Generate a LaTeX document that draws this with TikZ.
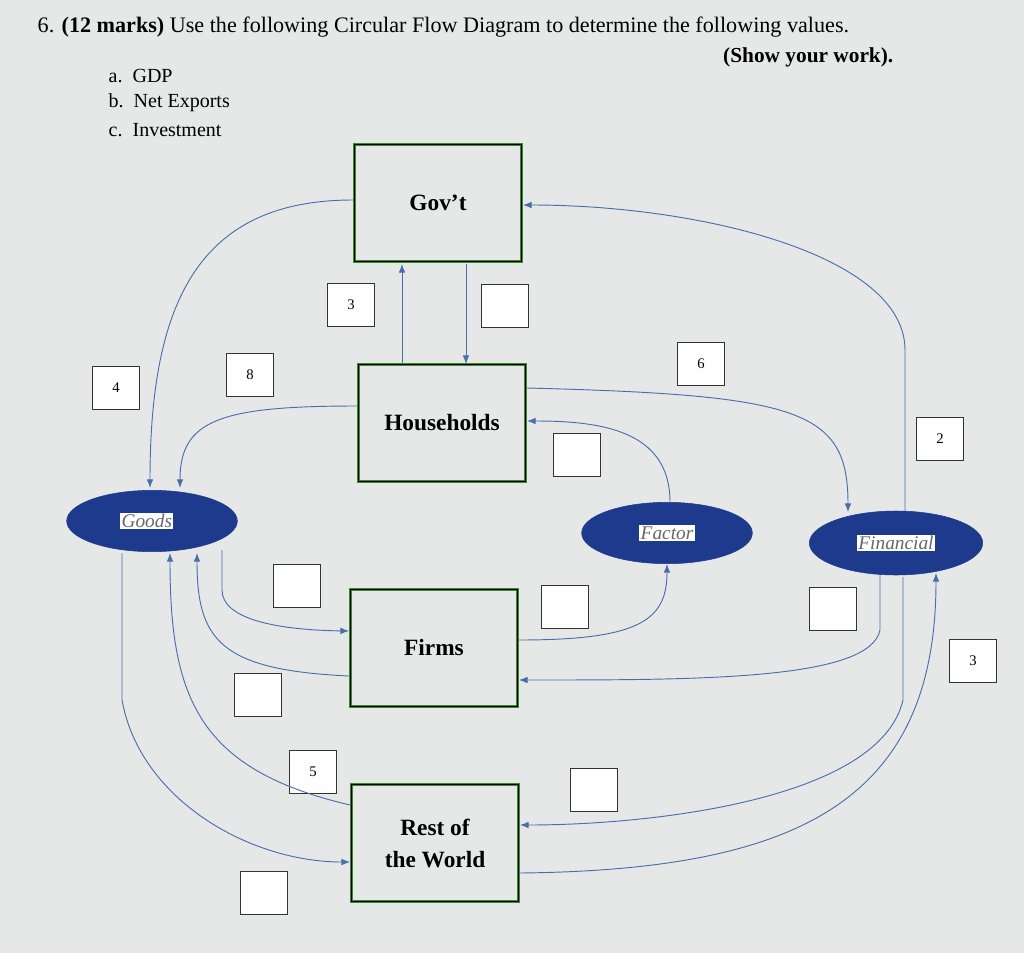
\documentclass[tikz,border=0pt]{standalone}
\usepackage{fontspec}
\setmainfont{Liberation Serif}
\usetikzlibrary{shapes.geometric,arrows.meta}
\definecolor{bg}{HTML}{E6E8E8}
\definecolor{ln}{HTML}{4A6FA8}
\definecolor{ell}{HTML}{1E3A8C}
\definecolor{gr}{HTML}{3C8A2E}
\begin{document}
\begin{tikzpicture}[x=0.75pt,y=-0.75pt,
 box/.style={draw=gr,line width=2.4pt,fill=bg,minimum width=125pt,minimum height=88pt,font=\fontsize{17.5}{24}\selectfont\bfseries,align=center,postaction={draw=black,line width=0.7pt}},
 sq/.style={draw=black!80,line width=0.7pt,fill=white!95!bg,minimum width=35pt,minimum height=32pt,font=\fontsize{11}{13}\selectfont},
 el/.style={ellipse,fill=ell,draw=ell,minimum width=128pt,minimum height=46pt},
 lab/.style={fill=white,inner sep=1pt,font=\fontsize{14.5}{17}\selectfont\itshape,text=black!60},
 ar/.style={ln,line width=0.7pt,-{Latex[length=6.5pt,width=5pt]}}]
\fill[bg] (0,0) rectangle (1024,953);
\useasboundingbox (0,0) rectangle (1024,953);
\node[anchor=west,font=\fontsize{16.6}{19}\selectfont] (title) at (33,27) {6. \textbf{(12 marks)} Use the following Circular Flow Diagram to determine the following values.};
\node[anchor=east,font=\fontsize{16}{19}\selectfont\bfseries] (show) at (898,57) {(Show your work).};
\node[anchor=west,font=\fontsize{15}{18}\selectfont] (qa) at (104,76) {a.\ \ GDP};
\node[anchor=west,font=\fontsize{15}{18}\selectfont] (qb) at (104,103) {b.\ \ Net Exports};
\node[anchor=west,font=\fontsize{15}{18}\selectfont] (qc) at (104,130) {c.\ \ Investment};

\node[box] (gov) at (438,203) {Gov’t};
\node[box] (hh) at (442,423) {Households};
\node[box] (firms) at (434,648) {Firms};
\node[box] (row) at (435,843) {Rest of\\the World};

\node[el] (goods) at (152,521) {};
\node[lab,anchor=west] (goodsl) at (120,521) {Goods};
\node[el] (factor) at (667,533) {};
\node[lab] (factorl) at (667,533) {Factor};
\node[el,minimum width=130pt,minimum height=48pt] (fin) at (896,543) {};
\node[lab] (finl) at (896,543) {Financial};

\node[sq] (b4) at (116,388) {4};
\node[sq] (b8) at (250,375) {8};
\node[sq] (b3) at (351,305) {3};
\node[sq] (e1) at (505,306) {};
\node[sq] (b6) at (701,364) {6};
\node[sq] (b2) at (940,439) {2};
\node[sq] (e2) at (577,455) {};
\node[sq] (e3) at (297,586) {};
\node[sq] (e4) at (565,607) {};
\node[sq] (e5) at (833,609) {};
\node[sq] (b3b) at (973,661) {3};
\node[sq] (e6) at (258,695) {};
\node[sq] (b5) at (313,772) {5};
\node[sq] (e7) at (594,790) {};
\node[sq] (e8) at (264,893) {};

\draw[ar] (gov.west |- 0,200) .. controls (200,200) and (150,300) .. (150,488);
\draw[ar] (905,511) -- (905,350) .. controls (905,255) and (700,205) .. (gov.east |- 0,205);
\draw[ar] (402,364) -- (402,264);
\draw[ar] (466,264) -- (466,364);
\draw[ar] (hh.west |- 0,406) .. controls (220,406) and (180,420) .. (180,488);
\draw[ar] (hh.east |- 0,388) .. controls (800,395) and (848,410) .. (848,512);
\draw[ar] (670,502) .. controls (670,430) and (600,421) .. (hh.east |- 0,421);
\draw[ar] (222,550) -- (222,590) .. controls (222,620) and (280,630) .. (firms.west |- 0,631);
\draw[ar] (firms.west |- 0,676) .. controls (220,670) and (197,640) .. (197,553);
\draw[ar] (firms.east |- 0,640) .. controls (640,640) and (667,620) .. (factor.south);
\draw[ar] (880,575) -- (880,630) .. controls (870,680) and (700,680) .. (firms.east |- 0,680);
\draw[ar] (row.west |- 0,805) .. controls (200,770) and (170,700) .. (170,553);
\draw[ar] (122,553) -- (122,700) .. controls (140,800) and (250,862) .. (row.west |- 0,862);
\draw[ar] (903,577) -- (903,700) .. controls (880,800) and (650,825) .. (row.east |- 0,825);
\draw[ar] (row.east |- 0,873) .. controls (800,870) and (936,800) .. (936,573);
\end{tikzpicture}
\end{document}
